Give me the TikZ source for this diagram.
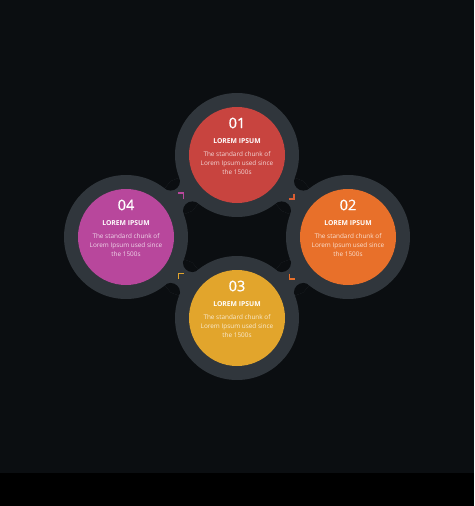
\documentclass[tikz,border=0pt]{standalone}
\usepackage{fontspec}
\setmainfont{Open Sans}
\usetikzlibrary{calc}
\definecolor{bg}{HTML}{0B0E11}
\definecolor{ringc}{HTML}{30363C}
\definecolor{cred}{HTML}{C8443F}
\definecolor{corange}{HTML}{E8702A}
\definecolor{cpink}{HTML}{B8479C}
\definecolor{cgold}{HTML}{E2A52C}
\tikzset{
  ringnode/.style={circle, fill=ringc, minimum size=124pt, inner sep=0pt},
  disc/.style={circle, minimum size=96pt, inner sep=0pt},
  numtxt/.style={text=white, inner sep=0pt, font=\addfontfeatures{FakeBold=0.8}\fontsize{14.5}{14.5}\selectfont},
  ttltxt/.style={text=white, inner sep=0pt, font=\bfseries\fontsize{6.8}{7}\selectfont},
  bodytxt/.style={align=center, inner sep=0pt, font=\fontsize{6.4}{9}\selectfont},
  chev/.style={line width=1.6pt, line cap=butt, line join=miter},
}
\begin{document}
\begin{tikzpicture}[x=1pt,y=-1pt]
\useasboundingbox (0,0) rectangle (474,506);
\fill[bg] (0,0) rectangle (474,506);
\fill[black] (0,473) rectangle (474,506);
\coordinate (T) at (237,155);
\coordinate (R) at (348,237);
\coordinate (B) at (237,318);
\coordinate (L) at (126,237);
% bridges with fillets
\foreach \a/\b in {T/R, R/B, B/L, L/T} {
  \coordinate (F1) at ($(\a)!0.5!(\b)!18.42pt!90:(\b)$);
  \coordinate (F2) at ($(\a)!0.5!(\b)!18.42pt!-90:(\b)$);
  \fill[ringc] (\a) -- (F1) -- (\b) -- (F2) -- cycle;
  \begin{scope}
    \clip (\a) -- (F1) -- (\b) -- (F2) -- cycle;
    \fill[bg] (F1) circle[radius=9.42pt] (F2) circle[radius=9.42pt];
  \end{scope}
}
% rings
\node[ringnode] (r1) at (T) {};
\node[ringnode] (r2) at (R) {};
\node[ringnode] (r3) at (B) {};
\node[ringnode] (r4) at (L) {};
% discs and texts
\foreach \p/\n/\c in {T/01/cred, R/02/corange, B/03/cgold, L/04/cpink} {
  \node[disc, fill=\c] (d\n) at (\p) {};
  \node[numtxt] (n\n) at ($(\p)+(0,-32)$) {\n};
  \node[ttltxt] (t\n) at ($(\p)+(0,-14)$) {LOREM IPSUM};
  \node[bodytxt, text=white!78!\c] (b\n) at ($(\p)+(0,8)$) {The standard chunk of\\Lorem Ipsum used since\\the 1500s};
}
% direction marks
\coordinate (m41) at ($(L)!0.5!(T)$);
\coordinate (m12) at ($(T)!0.5!(R)$);
\coordinate (m23) at ($(R)!0.5!(B)$);
\coordinate (m34) at ($(B)!0.5!(L)$);
\draw[chev, cpink] ($(m41)+(-3.5,-3)$) -- ($(m41)+(2,-3)$) -- ($(m41)+(2,2.5)$);
\draw[chev, cred!40!corange] ($(m12)+(1.5,-2.5)$) -- ($(m12)+(1.5,3)$) -- ($(m12)+(-4,3)$);
\draw[chev, corange] ($(m23)+(-3,-4)$) -- ($(m23)+(-3,1.5)$) -- ($(m23)+(2.5,1.5)$);
\draw[chev, cgold] ($(m34)+(2,-4)$) -- ($(m34)+(-3,-4)$) -- ($(m34)+(-3,1.5)$);
\end{tikzpicture}
\end{document}
